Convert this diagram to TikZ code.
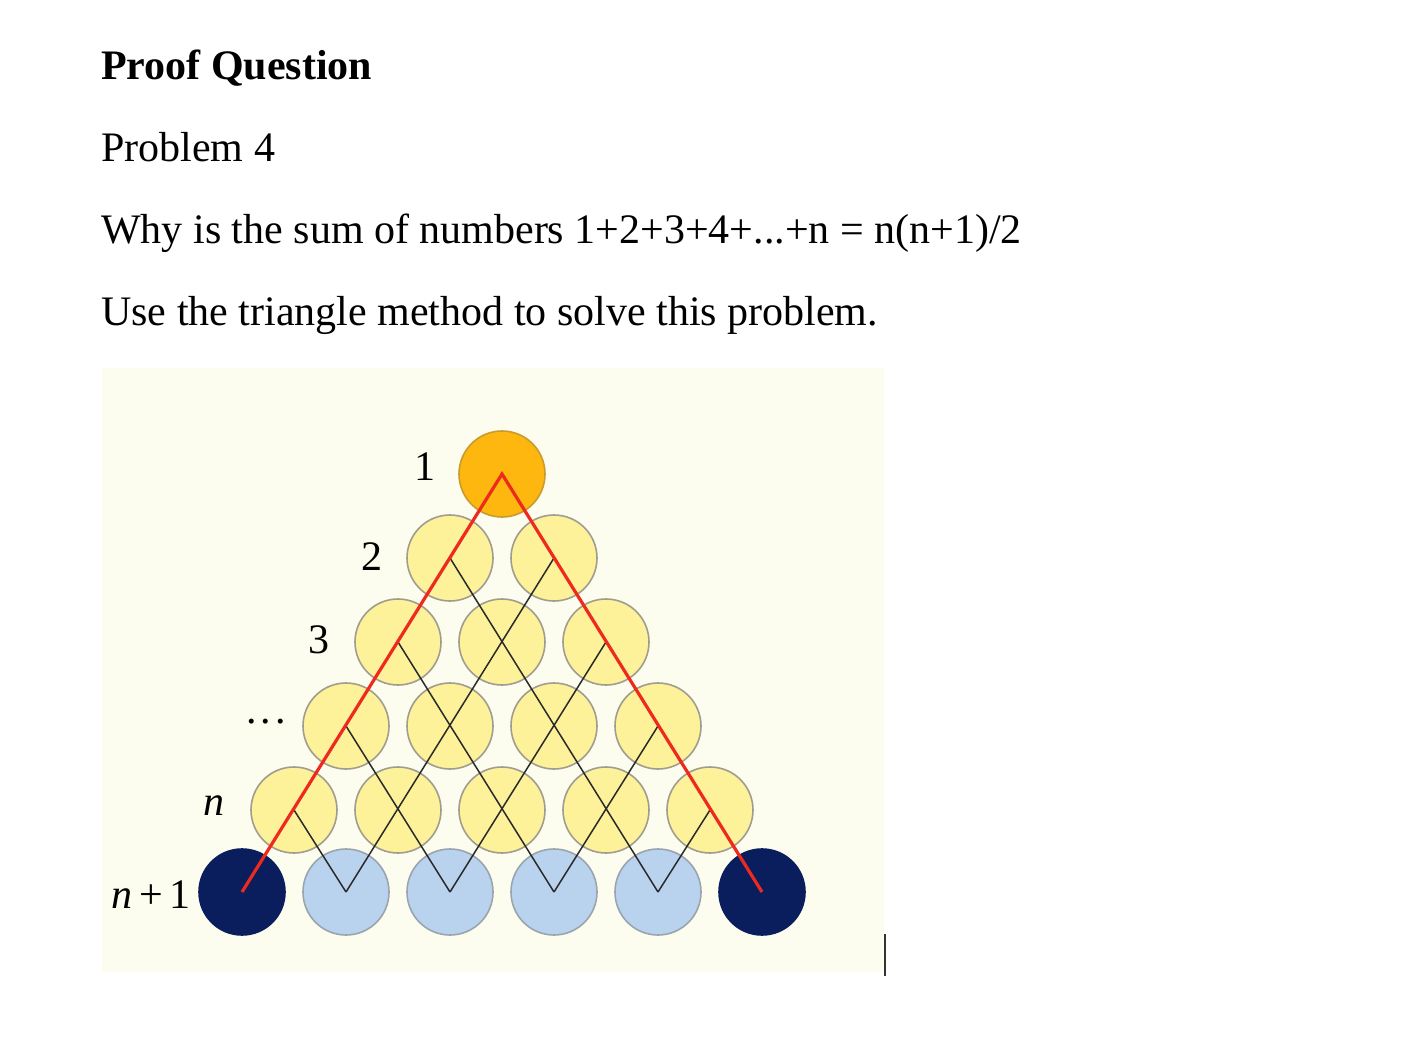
\documentclass[tikz,border=0pt]{standalone}
\usepackage{fontspec}
\setmainfont{Liberation Serif}
\definecolor{panelbg}{HTML}{FDFDEF}
\definecolor{ballyellow}{HTML}{FDF19A}
\definecolor{ballrim}{HTML}{A09D8E}
\definecolor{ballorange}{HTML}{FDB70F}
\definecolor{orangerim}{HTML}{C99A2E}
\definecolor{ballblue}{HTML}{B9D3EE}
\definecolor{bluerim}{HTML}{9AA4AE}
\definecolor{ballnavy}{HTML}{0A1E5E}
\definecolor{redline}{HTML}{EE2A1E}
\definecolor{latline}{HTML}{2A2A2A}
\begin{document}
\begin{tikzpicture}[x=1pt,y=-1pt,
  ball/.style={circle,minimum size=86pt,inner sep=0pt,line width=1.6pt},
  yball/.style={ball,fill=ballyellow,draw=ballrim},
  oball/.style={ball,fill=ballorange,draw=orangerim},
  bball/.style={ball,fill=ballblue,draw=bluerim},
  nball/.style={ball,fill=ballnavy,draw=ballnavy},
  lattice/.style={draw=latline,line width=1.5pt},
  redside/.style={draw=redline,line width=3.2pt},
  bodytext/.style={anchor=base west,inner sep=0pt,font=\fontsize{42}{50}\selectfont},
  lbl/.style={inner sep=0pt,font=\fontsize{42}{50}\selectfont}
]
\useasboundingbox (0,0) rectangle (1417,1049);
\fill[white] (0,0) rectangle (1417,1049);
\fill[panelbg] (102,368) rectangle (884,972);

\node[bodytext] (title) at (101,80) {\textbf{Proof Question}};
\node[bodytext] (prob) at (101,161) {Problem 4};
\node[bodytext] (why) at (101,243) {Why is the sum of numbers 1+2+3+4+...+n = n(n+1)/2};
\node[bodytext] (use) at (101,325) {Use the triangle method to solve this problem.};

\node[oball] (c11) at (502,474) {};
\foreach \r in {2,...,5}{
  \foreach \i in {1,...,\r}{
    \node[yball] (c\r\i) at ({502+(\i-(\r+1)/2)*104},{474+(\r-1)*84}) {};
  }
}
\node[nball] (c61) at (242,892) {};
\foreach \i in {2,...,5}{
  \node[bball] (c6\i) at ({502+(\i-3.5)*104},892) {};
}
\node[nball] (c66) at (762,892) {};

\foreach \k [evaluate=\k as \dr using {int(7-\k)}] in {2,...,5}{
  \draw[lattice] (c\k1.center) -- (c6\dr.center);
  \draw[lattice] (c\k\k.center) -- (c6\k.center);
}

\draw[redside] (c61.center) -- (c11.center) -- (c66.center);

\node[lbl] (l1) at (425,467) {1};
\node[lbl] (l2) at (372,557) {2};
\node[lbl] (l3) at (319,640) {3};
\node[lbl,anchor=base] (ldots) at (266,723) {.\kern4pt.\kern4pt.};
\node[lbl] (ln) at (214,806) {\textit{n}};
\node[lbl] (ln1) at (151,895) {\textit{n}\,+\,1};

\coordinate (curA) at (885,934);
\coordinate (curB) at (885,976);
\draw[line width=2pt,black!80] (curA) -- (curB);
\end{tikzpicture}
\end{document}
